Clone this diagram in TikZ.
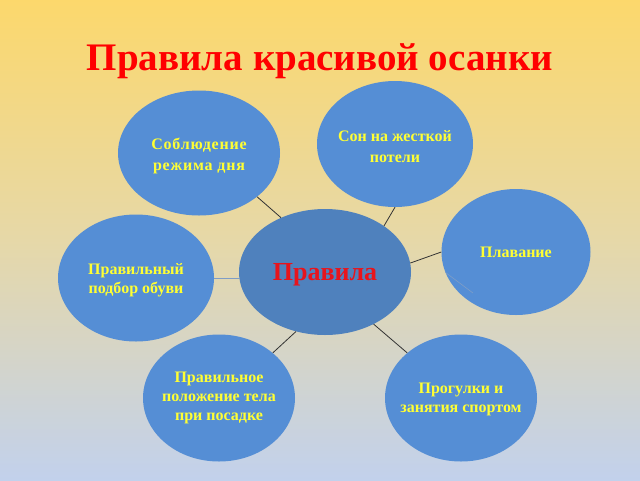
\documentclass[tikz,border=0pt]{standalone}
\usepackage{fontspec}
\setmainfont{Liberation Serif}
\usetikzlibrary{shapes.geometric}
\definecolor{bub}{HTML}{558ED5}
\definecolor{cenc}{HTML}{4F81BD}
\definecolor{txt}{HTML}{FFFF33}
\definecolor{bgtop}{HTML}{FCD86C}
\definecolor{bgmid}{HTML}{E6D8A8}
\definecolor{bgbot}{HTML}{C2D1EC}
\definecolor{faint}{HTML}{7F9DC6}
\definecolor{ttl}{HTML}{FF0000}
\definecolor{ctr}{HTML}{E8141C}
\newfontfamily\spacedfont[LetterSpace=5]{Liberation Serif}
\begin{document}
\begin{tikzpicture}[x=1pt,y=-1pt,
  bubble/.style={ellipse, fill=bub, inner sep=0pt},
  btext/.style={font=\bfseries\fontsize{16}{19}\selectfont, text=txt, align=center},
  wtext/.style={font=\bfseries\fontsize{16}{21}\selectfont, text=txt, align=center},
  stext/.style={font=\spacedfont\bfseries\fontsize{16}{21}\selectfont, text=txt, align=center},
  link/.style={draw=black!80, line width=0.8pt}]
\useasboundingbox (0,0) rectangle (640,480);
\shade[top color=bgtop, bottom color=bgbot, middle color=bgmid] (0,0) rectangle (640,480);

\node[font=\bfseries\fontsize{39}{47}\selectfont, text=ttl, anchor=base] (title) at (320,70) {Правила красивой осанки};

\node[bubble, minimum width=162pt, minimum height=125pt,
  label={[stext, yshift=-3pt]center:Соблюдение\\режима дня}] (sob) at (199,153) {};
\node[bubble, minimum width=156pt, minimum height=126pt,
  label={[wtext, yshift=-3pt]center:Сон на жесткой\\потели}] (son) at (395,144) {};
\node[bubble, minimum width=149pt, minimum height=126pt,
  label={[btext]center:Плавание}] (plav) at (516,252) {};
\node[bubble, minimum width=156pt, minimum height=127pt,
  label={[btext, yshift=-2pt]center:Правильный\\подбор обуви}] (obuv) at (136,278) {};
\node[bubble, minimum width=152pt, minimum height=127pt,
  label={[btext]center:Правильное\\положение тела\\при посадке}] (pos) at (219,398) {};
\node[bubble, minimum width=152pt, minimum height=127pt,
  label={[btext, yshift=-1pt]center:Прогулки и\\занятия спортом}] (prog) at (461,398) {};

\node[bubble, fill=cenc, minimum width=172pt, minimum height=126pt,
  label={[font=\bfseries\fontsize{26}{30}\selectfont, text=ctr, yshift=-3pt]center:Правила}] (cen) at (325,272) {};

\draw[link] (sob.-37) -- (cen.129);
\draw[link] (son.south) -- (cen.38);
\draw[link] (plav.180) -- (cen.6);
\draw[draw=faint, line width=0.8pt] (obuv.east) -- (cen.west |- obuv.east);
\draw[link] (cen.-116) -- (pos.40);
\draw[link] (cen.-47) -- (prog.140);

\coordinate (fa) at (plav.196);
\coordinate (fb) at (473,293);
\draw[draw=faint, line width=0.6pt] (fa) -- (fb);
\end{tikzpicture}
\end{document}
